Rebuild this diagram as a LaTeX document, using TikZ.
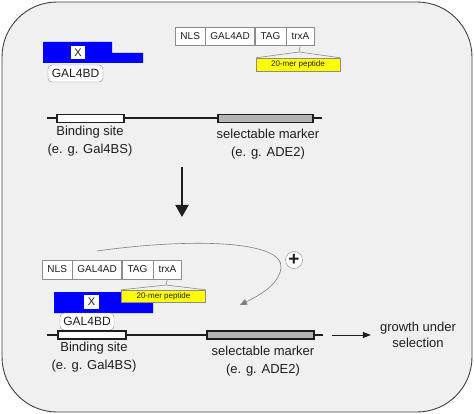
\documentclass[tikz,border=0pt]{standalone}
\usepackage{fontspec}
\setmainfont{Liberation Sans}
\usetikzlibrary{arrows.meta}
\definecolor{panel}{HTML}{F0F0F0}
\definecolor{edge}{HTML}{8C8C8C}
\definecolor{ink}{HTML}{1E1E1E}
\definecolor{marker}{HTML}{B4B4B4}
\definecolor{bait}{HTML}{0000FF}
\definecolor{pep}{HTML}{FFFF00}
\tikzset{
  frame/.style={draw=ink!85, fill=panel, line width=0.9pt, rounded corners=55pt},
  cell/.style={draw=edge, fill=white, minimum height=18pt, inner sep=0pt, text=ink, font=\fontsize{10}{12}\selectfont},
  peptide/.style={draw=edge, fill=pep, minimum width=84pt, minimum height=13pt, inner sep=0pt, text=ink, font=\fontsize{8}{10}\selectfont},
  link/.style={draw=edge, line width=0.6pt},
  xbox/.style={fill=white, minimum width=14pt, minimum height=13pt, inner sep=0pt, text=ink, font=\fontsize{11}{12}\selectfont},
  bd/.style={draw=edge, fill=white, rounded corners=4pt, minimum width=55pt, minimum height=17pt, inner sep=0pt, text=ink, font=\fontsize{12}{14}\selectfont},
  dna/.style={draw=ink, line width=1.4pt},
  site/.style={draw=ink, fill=white, line width=1.1pt, minimum height=8pt, inner sep=0pt},
  note/.style={align=center, inner sep=0pt, text=ink, font=\fontsize{13}{18}\selectfont}
}
\begin{document}
\begin{tikzpicture}[x=1pt, y=-1pt]
  \useasboundingbox (0,0) rectangle (474,414);
  % Panel
  \draw[frame] (2,2) rectangle (472,412);

  % Prey fusion (top)
  \node[cell, minimum width=30pt, anchor=west] (nlsA) at (175,36) {NLS};
  \node[cell, minimum width=49pt, anchor=west] (adA) at (nlsA.east) {GAL4AD};
  \node[cell, minimum width=31pt, anchor=west] (tagA) at (adA.east) {TAG};
  \node[cell, minimum width=28pt, anchor=west] (trxA) at (tagA.east) {trxA};
  \node[peptide] (pepA) at (298,64.5) {20-mer peptide};
  \coordinate (splitA) at (299,52);
  \draw[link] (trxA.south) -- (splitA) -- (pepA.north west);
  \draw[link] (splitA) -- (pepA.north east);

  % Bait (top)
  \fill[bait] (43,42) -- (112,42) -- (112,53) -- (143,53) -- (143,63) -- (43,63) -- cycle;
  \node[xbox] (xA) at (78,53) {X};
  \node[bd] (bdA) at (75.5,73.5) {GAL4BD};

  % Reporter (top)
  \coordinate (dnaA0) at (47,118);
  \coordinate (dnaA1) at (322,118);
  \draw[dna] (dnaA0) -- (dnaA1);
  \node[site, minimum width=67pt] (bsA) at (90.5,118.5) {};
  \node[site, fill=marker, minimum width=95pt] (smA) at (265.5,118.5) {};
  \node[note] (bsAtext) at (90,141) {Binding site\\(e. g. Gal4BS)};
  \node[note] (smAtext) at (268,144.5) {selectable marker\\(e. g. ADE2)};

  % Step arrow
  \coordinate (stepTop) at (182,167);
  \coordinate (stepBot) at (182,217);
  \draw[-{Triangle[width=13pt,length=12pt]}, line width=2pt, ink] (stepTop) -- (stepBot);

  % Recruitment curve
  \coordinate (recS) at (97,251);
  \coordinate (recE) at (240,305);
  \draw[draw=edge!90!black, line width=0.6pt, -{Triangle[width=6pt,length=7pt]}]
    (recS) .. controls (190,238) and (284,240) .. (281,268)
    .. controls (279,285) and (258,296) .. (recE);
  \node[circle, draw=edge, fill=white, minimum size=17pt, inner sep=0pt, text=ink, font=\fontsize{19}{19}\bfseries] (plusB) at (294,260) {+};

  % Prey fusion (bottom)
  \node[cell, minimum width=30pt, minimum height=19pt, anchor=west] (nlsB) at (42,269.5) {NLS};
  \node[cell, minimum width=49pt, minimum height=19pt, anchor=west] (adB) at (nlsB.east) {GAL4AD};
  \node[cell, minimum width=31pt, minimum height=19pt, anchor=west] (tagB) at (adB.east) {TAG};
  \node[cell, minimum width=28pt, minimum height=19pt, anchor=west] (trxB) at (tagB.east) {trxA};

  % Bait (bottom)
  \fill[bait] (54,292) -- (122,292) -- (122,302) -- (153,302) -- (153,313) -- (54,313) -- cycle;
  \node[peptide, minimum height=12pt] (pepB) at (163.5,296) {20-mer peptide};
  \coordinate (splitB) at (166,285);
  \draw[link] (trxB.south) -- (splitB) -- (pepB.north west);
  \draw[link] (splitB) -- (pepB.north east);
  \node[xbox, minimum width=15pt, minimum height=14pt] (xB) at (91.5,302) {X};
  \node[bd, minimum width=54pt] (bdB) at (87,321.5) {GAL4BD};

  % Reporter (bottom)
  \coordinate (dnaB0) at (47,335);
  \coordinate (dnaB1) at (323,335);
  \draw[dna] (dnaB0) -- (dnaB1);
  \node[site, minimum width=68pt] (bsB) at (92,335) {};
  \node[site, fill=marker, minimum width=107pt] (smB) at (260.5,335) {};
  \node[note] (bsBtext) at (94,357) {Binding site\\(e. g. Gal4BS)};
  \node[note] (smBtext) at (263,361) {selectable marker\\(e. g. ADE2)};

  % Output
  \node[note, font=\fontsize{13}{16}\selectfont] (growth) at (418,335) {growth under\\selection};
  \coordinate (outS) at (332,335);
  \draw[ink, line width=0.7pt, -{Triangle[width=6pt,length=8pt]}, shorten >=9pt] (outS) -- (growth.west);
\end{tikzpicture}
\end{document}
